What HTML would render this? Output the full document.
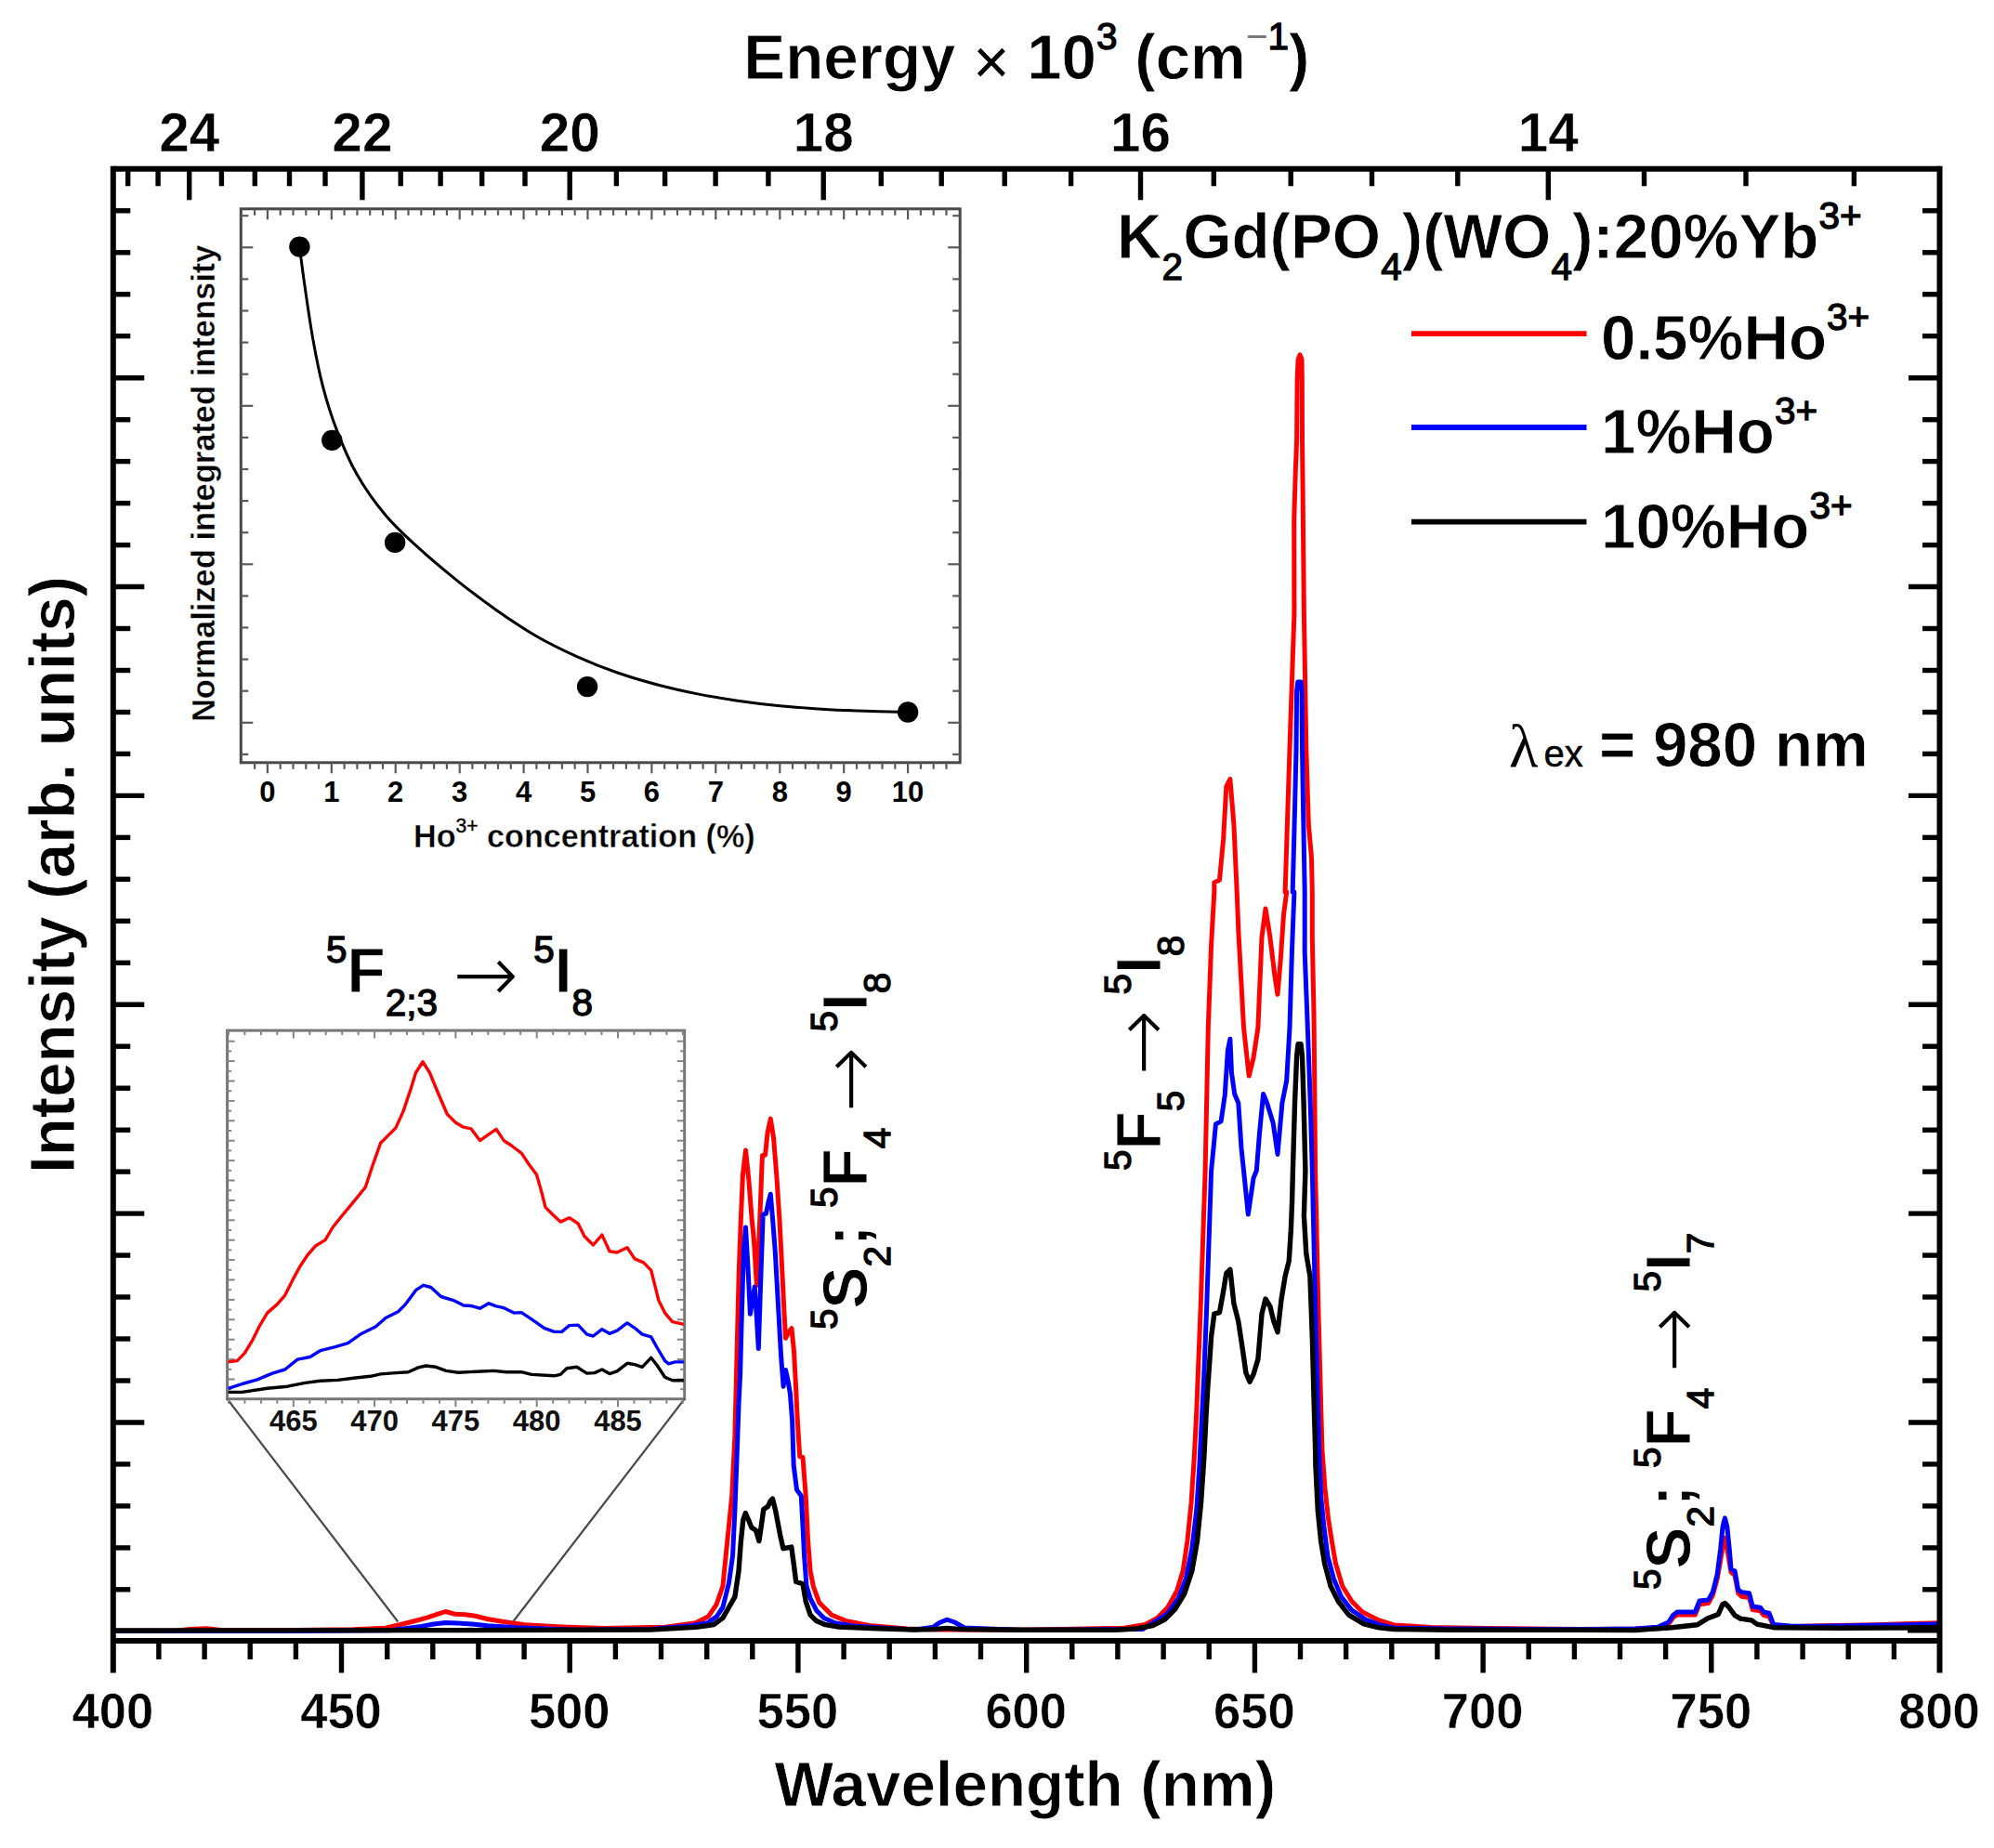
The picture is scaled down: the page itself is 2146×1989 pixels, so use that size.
<!DOCTYPE html>
<html lang="en"><head><meta charset="utf-8"><title>Upconversion emission spectra</title>
<style>html,body{margin:0;padding:0;background:#fff}svg{display:block}text{stroke:#fff;stroke-width:.8px}.k text{stroke-width:.5px}.s{font-weight:normal;stroke:#000;stroke-width:1.3px}.n{stroke:none}.t text{stroke:none}</style></head>
<body>
<svg width="2146" height="1989" viewBox="0 0 2146 1989" font-family='"Liberation Sans", Arial, Helvetica, sans-serif' font-weight="bold" fill="#000">
<rect width="2146" height="1989" fill="#fff"/>
<clipPath id="cp"><rect x="121.8" y="181.8" width="1965.7" height="1584.2"/></clipPath>
<g clip-path="url(#cp)">
<polyline points="121.8,1755.3 190.0,1754.9 205.0,1753.4 222.0,1752.7 238.0,1754.5 300.0,1754.7 380.0,1753.8 415.0,1752.3 429.8,1748.8 444.2,1745.2 460.2,1740.9 469.9,1737.7 479.5,1734.5 489.1,1737.2 500.4,1737.7 511.6,1739.3 524.4,1742.5 540.5,1745.2 564.6,1748.8 604.7,1751.0 650.0,1752.6 700.0,1751.5 716.2,1751.2 748.7,1746.7 762.5,1739.7 771.1,1726.8 777.9,1707.3 782.8,1658.6 787.7,1609.9 790.9,1544.9 792.5,1480.0 795.2,1370.5 797.3,1313.6 799.4,1264.9 802.5,1238.1 805.7,1268.2 809.0,1310.4 811.4,1334.7 814.4,1383.4 817.1,1329.9 820.4,1243.8 823.6,1243.0 826.0,1219.5 829.3,1204.1 832.5,1224.4 835.8,1264.9 839.0,1313.6 841.5,1362.3 843.9,1411.0 845.5,1440.3 848.8,1433.8 852.0,1429.7 854.4,1453.2 856.1,1484.1 858.3,1528.7 860.7,1567.7 864.0,1568.5 867.2,1609.9 869.6,1658.6 872.1,1691.0 875.3,1707.3 881.8,1725.1 894.8,1738.1 911.0,1744.8 935.4,1749.4 976.0,1753.1 1010.0,1754.1 1100.0,1754.3 1209.7,1752.2 1232.5,1748.5 1245.5,1741.4 1256.8,1730.0 1266.6,1712.1 1273.1,1691.0 1277.9,1658.6 1282.0,1618.0 1285.2,1569.3 1287.7,1520.6 1289.3,1480.0 1292.2,1406.1 1297.1,1260.0 1300.3,1106.1 1303.6,1016.8 1306.8,960.0 1306.8,949.8 1312.5,947.3 1316.6,903.5 1319.8,846.7 1323.9,838.6 1327.9,887.3 1331.2,960.0 1332.8,1000.6 1338.5,1106.1 1344.2,1158.1 1349.0,1138.6 1353.9,1106.1 1358.0,1008.7 1362.0,977.9 1366.9,1008.7 1371.8,1049.3 1375.0,1070.4 1378.2,1033.1 1381.5,984.4 1384.7,960.0 1383.1,960.0 1388.0,806.1 1392.9,660.0 1392.9,660.0 1392.7,560.0 1394.3,506.1 1395.6,473.6 1396.1,408.7 1397.1,386.8 1399.0,381.8 1401.0,386.8 1401.3,408.7 1401.5,473.6 1401.9,506.1 1402.4,560.0 1403.4,660.0 1405.8,806.1 1408.3,887.3 1411.5,923.0 1412.3,960.0 1412.3,1008.7 1414.0,1089.9 1414.8,1171.0 1415.6,1260.0 1418.8,1406.1 1422.9,1560.0 1426.0,1601.8 1429.5,1634.2 1433.3,1658.6 1437.5,1682.9 1444.8,1707.3 1454.9,1723.5 1466.2,1734.9 1484.1,1743.9 1500.0,1748.9 1540.0,1751.5 1600.0,1752.6 1700.0,1753.4 1760.0,1752.9 1783.8,1752.1 1795.7,1748.1 1800.5,1741.0 1805.2,1738.0 1824.3,1738.0 1829.0,1726.7 1838.6,1725.5 1843.3,1717.1 1848.1,1699.3 1851.7,1679.0 1854.0,1664.8 1856.4,1655.2 1858.8,1667.1 1861.2,1681.4 1863.0,1692.1 1867.1,1695.7 1870.7,1714.8 1874.3,1718.3 1882.6,1719.5 1886.2,1732.6 1894.5,1733.8 1898.1,1738.6 1904.0,1739.8 1908.8,1750.1 1926.7,1750.8 1960.0,1749.8 2020.0,1748.7 2060.0,1747.5 2087.5,1746.7" fill="none" stroke="#ff0000" stroke-width="5.0" stroke-linejoin="round" stroke-linecap="butt" />
<polyline points="121.8,1755.6 300.0,1755.4 420.0,1754.8 453.8,1750.4 466.7,1748.0 479.5,1746.5 492.3,1746.9 508.4,1748.0 524.4,1749.7 556.5,1751.8 620.0,1754.2 700.0,1753.5 740.6,1750.1 761.7,1746.6 771.4,1739.7 777.9,1730.0 784.4,1704.0 788.5,1674.8 790.9,1626.1 793.3,1561.2 795.0,1512.5 796.6,1480.0 798.4,1411.0 800.4,1346.1 802.5,1320.9 804.9,1362.3 807.4,1414.3 809.8,1399.7 812.2,1385.1 814.4,1419.2 816.3,1451.6 818.7,1378.6 821.2,1307.1 824.4,1306.3 826.9,1294.2 829.3,1285.2 831.7,1313.6 834.2,1346.1 837.4,1402.9 840.6,1459.7 843.1,1492.2 845.5,1474.4 848.0,1485.7 850.4,1500.0 852.6,1528.7 854.2,1577.4 857.5,1603.4 862.3,1609.9 864.0,1642.3 865.6,1674.8 868.0,1707.3 872.1,1720.3 878.6,1733.2 886.7,1741.4 898.1,1746.6 919.2,1750.1 959.7,1752.8 985.0,1754.0 1004.3,1751.3 1010.6,1746.7 1019.0,1743.2 1027.4,1746.0 1038.0,1752.0 1100.0,1754.5 1230.0,1753.5 1256.8,1736.5 1268.2,1720.3 1276.3,1699.2 1282.8,1666.7 1287.7,1626.1 1290.9,1577.4 1293.3,1528.7 1295.8,1480.0 1298.7,1406.1 1303.6,1260.0 1306.0,1236.0 1308.4,1210.0 1314.1,1206.8 1318.2,1179.2 1321.4,1130.5 1323.9,1118.3 1325.5,1154.8 1328.7,1177.5 1332.8,1187.3 1336.0,1236.0 1338.5,1260.0 1343.3,1307.1 1349.0,1268.1 1352.3,1260.0 1355.5,1219.7 1359.6,1177.5 1363.6,1187.3 1370.1,1208.4 1375.0,1242.5 1379.9,1187.3 1384.7,1162.9 1388.0,1106.1 1390.4,1024.9 1392.9,960.0 1391.2,960.0 1393.5,871.0 1395.0,806.1 1395.6,744.4 1396.8,733.9 1400.3,733.9 1401.0,744.4 1401.5,806.1 1402.6,871.0 1404.2,960.0 1404.2,1024.9 1406.7,1089.9 1409.1,1154.8 1410.7,1203.5 1412.3,1260.0 1415.6,1406.1 1419.6,1560.0 1421.6,1609.9 1424.8,1642.3 1428.9,1674.8 1435.4,1699.2 1443.5,1718.6 1454.9,1733.2 1469.5,1743.0 1485.7,1749.2 1500.0,1751.9 1560.0,1753.1 1700.0,1753.8 1760.0,1752.9 1783.8,1751.2 1795.7,1746.0 1800.5,1738.6 1805.2,1735.0 1824.3,1735.0 1829.0,1723.1 1838.6,1721.9 1843.3,1713.6 1848.1,1694.5 1851.7,1667.1 1854.0,1643.3 1856.4,1633.8 1858.8,1643.3 1861.2,1667.1 1863.0,1688.6 1867.1,1691.0 1870.7,1711.2 1874.3,1713.6 1882.6,1714.8 1886.2,1729.0 1894.5,1730.2 1898.1,1735.0 1904.0,1736.2 1908.8,1748.6 1926.7,1749.9 1960.0,1750.2 2040.0,1749.0 2087.5,1748.0" fill="none" stroke="#0000ff" stroke-width="5.0" stroke-linejoin="round" stroke-linecap="butt" />
<polyline points="121.8,1755.0 500.0,1754.6 700.0,1754.0 748.7,1751.4 768.2,1748.7 777.9,1741.4 784.4,1730.0 790.9,1718.6 795.0,1691.0 797.4,1658.6 799.8,1635.8 802.3,1628.5 805.5,1635.8 808.8,1644.0 813.6,1647.2 816.9,1658.6 819.3,1642.3 821.8,1624.5 826.6,1621.2 829.1,1615.6 831.5,1613.1 834.7,1626.1 839.6,1652.1 842.9,1666.7 851.8,1665.1 854.2,1682.9 856.7,1702.4 864.0,1704.8 867.2,1723.5 872.1,1738.1 878.6,1744.6 888.3,1748.7 902.9,1751.1 943.5,1752.7 985.0,1754.0 1005.0,1753.6 1019.0,1752.4 1035.0,1753.6 1100.0,1754.2 1200.0,1754.4 1224.4,1752.7 1240.6,1749.5 1253.6,1743.0 1264.9,1731.6 1274.7,1715.4 1282.8,1691.0 1288.5,1658.6 1292.5,1618.0 1295.8,1569.3 1298.2,1520.6 1300.6,1480.0 1300.3,1487.3 1303.6,1438.6 1306.8,1414.2 1312.5,1412.6 1316.6,1389.9 1319.8,1370.4 1323.9,1366.3 1327.9,1402.9 1332.8,1422.3 1337.7,1454.8 1340.9,1477.5 1345.0,1487.3 1349.0,1479.2 1353.9,1462.9 1358.0,1414.2 1362.0,1398.0 1366.9,1406.1 1370.9,1422.3 1375.0,1433.7 1379.1,1398.0 1383.1,1373.6 1387.2,1357.4 1389.3,1324.9 1390.6,1292.5 1391.4,1260.0 1391.4,1260.0 1393.5,1187.3 1395.6,1136.9 1397.1,1123.6 1400.0,1123.6 1401.5,1136.9 1403.1,1187.3 1404.9,1260.0 1403.4,1308.7 1405.8,1349.3 1409.9,1373.6 1412.3,1438.6 1414.0,1503.5 1415.6,1560.0 1415.9,1577.4 1418.3,1626.1 1421.6,1658.6 1425.6,1682.9 1432.1,1707.3 1440.3,1723.5 1451.6,1738.1 1467.9,1747.9 1484.1,1751.9 1500.0,1753.5 1560.0,1754.2 1700.0,1754.4 1760.0,1754.6 1799.3,1751.7 1826.7,1748.7 1837.4,1742.1 1849.3,1737.4 1854.0,1726.7 1856.4,1725.5 1860.0,1729.0 1867.1,1738.6 1873.1,1742.1 1885.0,1743.9 1891.0,1748.1 1908.8,1751.7 1980.0,1752.3 2050.0,1752.0 2087.5,1751.5" fill="none" stroke="#000" stroke-width="5.4" stroke-linejoin="round" stroke-linecap="butt" />
<line x1="2053" y1="1755.5" x2="2087.5" y2="1755.5" stroke="#000" stroke-width="4"/>
</g>
<g stroke="#000" stroke-width="6.0" fill="none" stroke-linecap="butt">
<line x1="121.8" y1="178.8" x2="121.8" y2="1800.5"/>
<line x1="2087.5" y1="178.8" x2="2087.5" y2="1800.5"/>
<line x1="121.8" y1="181.8" x2="2087.5" y2="181.8"/>
<line x1="121.8" y1="1766.0" x2="2087.5" y2="1766.0"/>
</g>
<g stroke="#000" stroke-width="5.4" fill="none">
<line x1="170.9" y1="1766.0" x2="170.9" y2="1786"/>
<line x1="220.1" y1="1766.0" x2="220.1" y2="1786"/>
<line x1="269.2" y1="1766.0" x2="269.2" y2="1786"/>
<line x1="318.4" y1="1766.0" x2="318.4" y2="1786"/>
<line x1="367.5" y1="1766.0" x2="367.5" y2="1800.5"/>
<line x1="416.7" y1="1766.0" x2="416.7" y2="1786"/>
<line x1="465.8" y1="1766.0" x2="465.8" y2="1786"/>
<line x1="514.9" y1="1766.0" x2="514.9" y2="1786"/>
<line x1="564.1" y1="1766.0" x2="564.1" y2="1786"/>
<line x1="613.2" y1="1766.0" x2="613.2" y2="1800.5"/>
<line x1="662.4" y1="1766.0" x2="662.4" y2="1786"/>
<line x1="711.5" y1="1766.0" x2="711.5" y2="1786"/>
<line x1="760.7" y1="1766.0" x2="760.7" y2="1786"/>
<line x1="809.8" y1="1766.0" x2="809.8" y2="1786"/>
<line x1="858.9" y1="1766.0" x2="858.9" y2="1800.5"/>
<line x1="908.1" y1="1766.0" x2="908.1" y2="1786"/>
<line x1="957.2" y1="1766.0" x2="957.2" y2="1786"/>
<line x1="1006.4" y1="1766.0" x2="1006.4" y2="1786"/>
<line x1="1055.5" y1="1766.0" x2="1055.5" y2="1786"/>
<line x1="1104.7" y1="1766.0" x2="1104.7" y2="1800.5"/>
<line x1="1153.8" y1="1766.0" x2="1153.8" y2="1786"/>
<line x1="1202.9" y1="1766.0" x2="1202.9" y2="1786"/>
<line x1="1252.1" y1="1766.0" x2="1252.1" y2="1786"/>
<line x1="1301.2" y1="1766.0" x2="1301.2" y2="1786"/>
<line x1="1350.4" y1="1766.0" x2="1350.4" y2="1800.5"/>
<line x1="1399.5" y1="1766.0" x2="1399.5" y2="1786"/>
<line x1="1448.6" y1="1766.0" x2="1448.6" y2="1786"/>
<line x1="1497.8" y1="1766.0" x2="1497.8" y2="1786"/>
<line x1="1546.9" y1="1766.0" x2="1546.9" y2="1786"/>
<line x1="1596.1" y1="1766.0" x2="1596.1" y2="1800.5"/>
<line x1="1645.2" y1="1766.0" x2="1645.2" y2="1786"/>
<line x1="1694.4" y1="1766.0" x2="1694.4" y2="1786"/>
<line x1="1743.5" y1="1766.0" x2="1743.5" y2="1786"/>
<line x1="1792.6" y1="1766.0" x2="1792.6" y2="1786"/>
<line x1="1841.8" y1="1766.0" x2="1841.8" y2="1800.5"/>
<line x1="1890.9" y1="1766.0" x2="1890.9" y2="1786"/>
<line x1="1940.1" y1="1766.0" x2="1940.1" y2="1786"/>
<line x1="1989.2" y1="1766.0" x2="1989.2" y2="1786"/>
<line x1="2038.4" y1="1766.0" x2="2038.4" y2="1786"/>
<line x1="137.7" y1="181.8" x2="137.7" y2="200.3"/>
<line x1="170.1" y1="181.8" x2="170.1" y2="200.3"/>
<line x1="203.7" y1="181.8" x2="203.7" y2="215.3"/>
<line x1="238.4" y1="181.8" x2="238.4" y2="200.3"/>
<line x1="274.3" y1="181.8" x2="274.3" y2="200.3"/>
<line x1="311.5" y1="181.8" x2="311.5" y2="200.3"/>
<line x1="350.0" y1="181.8" x2="350.0" y2="200.3"/>
<line x1="389.9" y1="181.8" x2="389.9" y2="215.3"/>
<line x1="431.2" y1="181.8" x2="431.2" y2="200.3"/>
<line x1="474.1" y1="181.8" x2="474.1" y2="200.3"/>
<line x1="518.7" y1="181.8" x2="518.7" y2="200.3"/>
<line x1="565.0" y1="181.8" x2="565.0" y2="200.3"/>
<line x1="613.2" y1="181.8" x2="613.2" y2="215.3"/>
<line x1="663.4" y1="181.8" x2="663.4" y2="200.3"/>
<line x1="715.6" y1="181.8" x2="715.6" y2="200.3"/>
<line x1="770.1" y1="181.8" x2="770.1" y2="200.3"/>
<line x1="826.9" y1="181.8" x2="826.9" y2="200.3"/>
<line x1="886.2" y1="181.8" x2="886.2" y2="215.3"/>
<line x1="948.3" y1="181.8" x2="948.3" y2="200.3"/>
<line x1="1013.2" y1="181.8" x2="1013.2" y2="200.3"/>
<line x1="1081.2" y1="181.8" x2="1081.2" y2="200.3"/>
<line x1="1152.6" y1="181.8" x2="1152.6" y2="200.3"/>
<line x1="1227.5" y1="181.8" x2="1227.5" y2="215.3"/>
<line x1="1306.3" y1="181.8" x2="1306.3" y2="200.3"/>
<line x1="1389.2" y1="181.8" x2="1389.2" y2="200.3"/>
<line x1="1476.5" y1="181.8" x2="1476.5" y2="200.3"/>
<line x1="1568.8" y1="181.8" x2="1568.8" y2="200.3"/>
<line x1="1666.3" y1="181.8" x2="1666.3" y2="215.3"/>
<line x1="1769.5" y1="181.8" x2="1769.5" y2="200.3"/>
<line x1="1879.0" y1="181.8" x2="1879.0" y2="200.3"/>
<line x1="1995.4" y1="181.8" x2="1995.4" y2="200.3"/>
<line x1="121.8" y1="1710.8" x2="140.3" y2="1710.8"/>
<line x1="2087.5" y1="1710.8" x2="2069.0" y2="1710.8"/>
<line x1="121.8" y1="1665.9" x2="140.3" y2="1665.9"/>
<line x1="2087.5" y1="1665.9" x2="2069.0" y2="1665.9"/>
<line x1="121.8" y1="1620.9" x2="140.3" y2="1620.9"/>
<line x1="2087.5" y1="1620.9" x2="2069.0" y2="1620.9"/>
<line x1="121.8" y1="1575.9" x2="140.3" y2="1575.9"/>
<line x1="2087.5" y1="1575.9" x2="2069.0" y2="1575.9"/>
<line x1="121.8" y1="1531.0" x2="155.3" y2="1531.0"/>
<line x1="2087.5" y1="1531.0" x2="2054.0" y2="1531.0"/>
<line x1="121.8" y1="1486.0" x2="140.3" y2="1486.0"/>
<line x1="2087.5" y1="1486.0" x2="2069.0" y2="1486.0"/>
<line x1="121.8" y1="1441.0" x2="140.3" y2="1441.0"/>
<line x1="2087.5" y1="1441.0" x2="2069.0" y2="1441.0"/>
<line x1="121.8" y1="1396.0" x2="140.3" y2="1396.0"/>
<line x1="2087.5" y1="1396.0" x2="2069.0" y2="1396.0"/>
<line x1="121.8" y1="1351.1" x2="140.3" y2="1351.1"/>
<line x1="2087.5" y1="1351.1" x2="2069.0" y2="1351.1"/>
<line x1="121.8" y1="1306.1" x2="155.3" y2="1306.1"/>
<line x1="2087.5" y1="1306.1" x2="2054.0" y2="1306.1"/>
<line x1="121.8" y1="1261.1" x2="140.3" y2="1261.1"/>
<line x1="2087.5" y1="1261.1" x2="2069.0" y2="1261.1"/>
<line x1="121.8" y1="1216.2" x2="140.3" y2="1216.2"/>
<line x1="2087.5" y1="1216.2" x2="2069.0" y2="1216.2"/>
<line x1="121.8" y1="1171.2" x2="140.3" y2="1171.2"/>
<line x1="2087.5" y1="1171.2" x2="2069.0" y2="1171.2"/>
<line x1="121.8" y1="1126.2" x2="140.3" y2="1126.2"/>
<line x1="2087.5" y1="1126.2" x2="2069.0" y2="1126.2"/>
<line x1="121.8" y1="1081.2" x2="155.3" y2="1081.2"/>
<line x1="2087.5" y1="1081.2" x2="2054.0" y2="1081.2"/>
<line x1="121.8" y1="1036.3" x2="140.3" y2="1036.3"/>
<line x1="2087.5" y1="1036.3" x2="2069.0" y2="1036.3"/>
<line x1="121.8" y1="991.3" x2="140.3" y2="991.3"/>
<line x1="2087.5" y1="991.3" x2="2069.0" y2="991.3"/>
<line x1="121.8" y1="946.3" x2="140.3" y2="946.3"/>
<line x1="2087.5" y1="946.3" x2="2069.0" y2="946.3"/>
<line x1="121.8" y1="901.4" x2="140.3" y2="901.4"/>
<line x1="2087.5" y1="901.4" x2="2069.0" y2="901.4"/>
<line x1="121.8" y1="856.4" x2="155.3" y2="856.4"/>
<line x1="2087.5" y1="856.4" x2="2054.0" y2="856.4"/>
<line x1="121.8" y1="811.4" x2="140.3" y2="811.4"/>
<line x1="2087.5" y1="811.4" x2="2069.0" y2="811.4"/>
<line x1="121.8" y1="766.5" x2="140.3" y2="766.5"/>
<line x1="2087.5" y1="766.5" x2="2069.0" y2="766.5"/>
<line x1="121.8" y1="721.5" x2="140.3" y2="721.5"/>
<line x1="2087.5" y1="721.5" x2="2069.0" y2="721.5"/>
<line x1="121.8" y1="676.5" x2="140.3" y2="676.5"/>
<line x1="2087.5" y1="676.5" x2="2069.0" y2="676.5"/>
<line x1="121.8" y1="631.5" x2="155.3" y2="631.5"/>
<line x1="2087.5" y1="631.5" x2="2054.0" y2="631.5"/>
<line x1="121.8" y1="586.6" x2="140.3" y2="586.6"/>
<line x1="2087.5" y1="586.6" x2="2069.0" y2="586.6"/>
<line x1="121.8" y1="541.6" x2="140.3" y2="541.6"/>
<line x1="2087.5" y1="541.6" x2="2069.0" y2="541.6"/>
<line x1="121.8" y1="496.6" x2="140.3" y2="496.6"/>
<line x1="2087.5" y1="496.6" x2="2069.0" y2="496.6"/>
<line x1="121.8" y1="451.7" x2="140.3" y2="451.7"/>
<line x1="2087.5" y1="451.7" x2="2069.0" y2="451.7"/>
<line x1="121.8" y1="406.7" x2="155.3" y2="406.7"/>
<line x1="2087.5" y1="406.7" x2="2054.0" y2="406.7"/>
<line x1="121.8" y1="361.7" x2="140.3" y2="361.7"/>
<line x1="2087.5" y1="361.7" x2="2069.0" y2="361.7"/>
<line x1="121.8" y1="316.8" x2="140.3" y2="316.8"/>
<line x1="2087.5" y1="316.8" x2="2069.0" y2="316.8"/>
<line x1="121.8" y1="271.8" x2="140.3" y2="271.8"/>
<line x1="2087.5" y1="271.8" x2="2069.0" y2="271.8"/>
<line x1="121.8" y1="226.8" x2="140.3" y2="226.8"/>
<line x1="2087.5" y1="226.8" x2="2069.0" y2="226.8"/>
</g>
<g class="k" font-size="52.5" text-anchor="middle">
<text transform="translate(121.3,1859.8) scale(1,1.02)">400</text>
<text transform="translate(367.0,1859.8) scale(1,1.02)">450</text>
<text transform="translate(612.7,1859.8) scale(1,1.02)">500</text>
<text transform="translate(858.4,1859.8) scale(1,1.02)">550</text>
<text transform="translate(1104.2,1859.8) scale(1,1.02)">600</text>
<text transform="translate(1349.9,1859.8) scale(1,1.02)">650</text>
<text transform="translate(1595.6,1859.8) scale(1,1.02)">700</text>
<text transform="translate(1841.3,1859.8) scale(1,1.02)">750</text>
<text transform="translate(2087.0,1859.8) scale(1,1.02)">800</text>
</g>
<g class="k" font-size="58.5" text-anchor="middle">
<text transform="translate(203.7,162.8) scale(1,1.02)">24</text>
<text transform="translate(389.9,162.8) scale(1,1.02)">22</text>
<text transform="translate(613.2,162.8) scale(1,1.02)">20</text>
<text transform="translate(886.2,162.8) scale(1,1.02)">18</text>
<text transform="translate(1227.5,162.8) scale(1,1.02)">16</text>
<text transform="translate(1666.3,162.8) scale(1,1.02)">14</text>
</g>
<text transform="translate(1103.3,1943.7) scale(1,1.02)" font-size="67.3" text-anchor="middle">Wavelength (nm)</text>
<text transform="translate(80.3,941.5) rotate(-90) scale(1,1.02)" font-size="67.3" text-anchor="middle">Intensity (arb. units)</text>
<text transform="translate(800.3,85.3) scale(1,1.02)" font-size="67.3">Energy <tspan class="n" font-weight="normal" dy="4.90">×</tspan><tspan dy="-4.90"> 10</tspan><tspan class="s" font-size="40.5" dy="-31.37">3</tspan><tspan dy="31.37"> (cm</tspan><tspan class="n" font-size="40.5" dy="-31.37" font-weight="normal" fill="#777">−</tspan><tspan class="s" font-size="40.5">1</tspan><tspan dy="31.37">)</tspan></text>
<text transform="translate(1202,278.3) scale(1,1.02)" font-size="67.3">K<tspan class="s" font-size="40.5" dy="22.55">2</tspan><tspan dy="-22.55">Gd(PO</tspan><tspan class="s" font-size="40.5" dy="22.55">4</tspan><tspan dy="-22.55">)(WO</tspan><tspan class="s" font-size="40.5" dy="22.55">4</tspan><tspan dy="-22.55">):20%Yb</tspan><tspan class="s" font-size="40.5" dy="-31.37">3+</tspan></text>
<line x1="1519" y1="359.2" x2="1707.5" y2="359.2" stroke="#ff0000" stroke-width="5.8"/>
<text transform="translate(1723,387.4) scale(1,1.02)" font-size="67.3">0.5%Ho<tspan class="s" font-size="40.5" dy="-31.37">3+</tspan></text>
<line x1="1519" y1="460.0" x2="1707.5" y2="460.0" stroke="#0000ff" stroke-width="5.8"/>
<text transform="translate(1723,488.2) scale(1,1.02)" font-size="67.3">1%Ho<tspan class="s" font-size="40.5" dy="-31.37">3+</tspan></text>
<line x1="1519" y1="561.6" x2="1707.5" y2="561.6" stroke="#000" stroke-width="5.8"/>
<text transform="translate(1723,589.8) scale(1,1.02)" font-size="67.3">10%Ho<tspan class="s" font-size="40.5" dy="-31.37">3+</tspan></text>
<text transform="translate(1624,825) scale(1,1.02)" font-size="67.3"><tspan font-family='"Liberation Serif", serif' class="n" font-weight="normal" font-size="65">λ</tspan><tspan class="s" font-size="40" dx="6" style="stroke-width:.5px">ex</tspan><tspan dx="-1.5"> = 980 nm</tspan></text>
<text transform="translate(351,1068.1) rotate(0) scale(1,1.02)" font-size="67.3"><tspan class="s" font-size="40.5" dy="-31.37">5</tspan><tspan dy="31.37">F</tspan><tspan class="s" font-size="40.5" dy="24.51">2;3</tspan><tspan dy="-24.51"> </tspan><tspan font-family='"DejaVu Sans Light", "Liberation Serif", serif' class="n" font-weight="normal" font-size="84" dy="9.41" dx="-2">→</tspan><tspan dy="-9.41" dx="-2.5"> </tspan><tspan class="s" font-size="40.5" dy="-31.37">5</tspan><tspan dy="31.37">I</tspan><tspan class="s" font-size="40.5" dy="24.51">8</tspan></text>
<text transform="translate(933.4,1431) rotate(-90) scale(1,1.02)" font-size="67.3"><tspan class="s" font-size="40.5" dy="-31.37">5</tspan><tspan dy="31.37">S</tspan><tspan class="s" font-size="40.5" dy="24.51">2</tspan><tspan dy="-24.51">; </tspan><tspan class="s" font-size="40.5" dy="-31.37">5</tspan><tspan dy="31.37">F</tspan><tspan class="s" font-size="40.5" dy="24.51">4</tspan><tspan dy="-24.51"> </tspan><tspan font-family='"DejaVu Sans Light", "Liberation Serif", serif' class="n" font-weight="normal" font-size="84" dy="9.41" dx="-2">→</tspan><tspan dy="-9.41" dx="-2.5"> </tspan><tspan class="s" font-size="40.5" dy="-31.37">5</tspan><tspan dy="31.37">I</tspan><tspan class="s" font-size="40.5" dy="24.51">8</tspan></text>
<text transform="translate(1248.5,1260) rotate(-90) scale(1,1.02)" font-size="67.3"><tspan class="s" font-size="40.5" dy="-31.37">5</tspan><tspan dy="31.37">F</tspan><tspan class="s" font-size="40.5" dy="24.51">5</tspan><tspan dy="-24.51"> </tspan><tspan font-family='"DejaVu Sans Light", "Liberation Serif", serif' class="n" font-weight="normal" font-size="84" dy="9.41" dx="-2">→</tspan><tspan dy="-9.41" dx="-2.5"> </tspan><tspan class="s" font-size="40.5" dy="-31.37">5</tspan><tspan dy="31.37">I</tspan><tspan class="s" font-size="40.5" dy="24.51">8</tspan></text>
<text transform="translate(1819.2,1711) rotate(-90) scale(1,1.02)" font-size="67.3"><tspan class="s" font-size="40.5" dy="-31.37">5</tspan><tspan dy="31.37">S</tspan><tspan class="s" font-size="40.5" dy="24.51">2</tspan><tspan dy="-24.51">; </tspan><tspan class="s" font-size="40.5" dy="-31.37">5</tspan><tspan dy="31.37">F</tspan><tspan class="s" font-size="40.5" dy="24.51">4</tspan><tspan dy="-24.51"> </tspan><tspan font-family='"DejaVu Sans Light", "Liberation Serif", serif' class="n" font-weight="normal" font-size="84" dy="9.41" dx="-2">→</tspan><tspan dy="-9.41" dx="-2.5"> </tspan><tspan class="s" font-size="40.5" dy="-31.37">5</tspan><tspan dy="31.37">I</tspan><tspan class="s" font-size="40.5" dy="24.51">7</tspan></text>
<rect x="259.3" y="224.8" width="773.9000000000001" height="596.0" fill="#fff" stroke="#484848" stroke-width="3"/>
<g stroke="#5a5a5a" stroke-width="2.2">
<line x1="274.1" y1="820.8" x2="274.1" y2="827.8"/>
<line x1="274.1" y1="224.8" x2="274.1" y2="231.8"/>
<line x1="287.9" y1="820.8" x2="287.9" y2="832.3"/>
<line x1="287.9" y1="224.8" x2="287.9" y2="236.3"/>
<line x1="301.7" y1="820.8" x2="301.7" y2="827.8"/>
<line x1="301.7" y1="224.8" x2="301.7" y2="231.8"/>
<line x1="315.5" y1="820.8" x2="315.5" y2="827.8"/>
<line x1="315.5" y1="224.8" x2="315.5" y2="231.8"/>
<line x1="329.3" y1="820.8" x2="329.3" y2="827.8"/>
<line x1="329.3" y1="224.8" x2="329.3" y2="231.8"/>
<line x1="343.0" y1="820.8" x2="343.0" y2="827.8"/>
<line x1="343.0" y1="224.8" x2="343.0" y2="231.8"/>
<line x1="356.8" y1="820.8" x2="356.8" y2="832.3"/>
<line x1="356.8" y1="224.8" x2="356.8" y2="236.3"/>
<line x1="370.6" y1="820.8" x2="370.6" y2="827.8"/>
<line x1="370.6" y1="224.8" x2="370.6" y2="231.8"/>
<line x1="384.4" y1="820.8" x2="384.4" y2="827.8"/>
<line x1="384.4" y1="224.8" x2="384.4" y2="231.8"/>
<line x1="398.2" y1="820.8" x2="398.2" y2="827.8"/>
<line x1="398.2" y1="224.8" x2="398.2" y2="231.8"/>
<line x1="412.0" y1="820.8" x2="412.0" y2="827.8"/>
<line x1="412.0" y1="224.8" x2="412.0" y2="231.8"/>
<line x1="425.7" y1="820.8" x2="425.7" y2="832.3"/>
<line x1="425.7" y1="224.8" x2="425.7" y2="236.3"/>
<line x1="439.5" y1="820.8" x2="439.5" y2="827.8"/>
<line x1="439.5" y1="224.8" x2="439.5" y2="231.8"/>
<line x1="453.3" y1="820.8" x2="453.3" y2="827.8"/>
<line x1="453.3" y1="224.8" x2="453.3" y2="231.8"/>
<line x1="467.1" y1="820.8" x2="467.1" y2="827.8"/>
<line x1="467.1" y1="224.8" x2="467.1" y2="231.8"/>
<line x1="480.9" y1="820.8" x2="480.9" y2="827.8"/>
<line x1="480.9" y1="224.8" x2="480.9" y2="231.8"/>
<line x1="494.7" y1="820.8" x2="494.7" y2="832.3"/>
<line x1="494.7" y1="224.8" x2="494.7" y2="236.3"/>
<line x1="508.4" y1="820.8" x2="508.4" y2="827.8"/>
<line x1="508.4" y1="224.8" x2="508.4" y2="231.8"/>
<line x1="522.2" y1="820.8" x2="522.2" y2="827.8"/>
<line x1="522.2" y1="224.8" x2="522.2" y2="231.8"/>
<line x1="536.0" y1="820.8" x2="536.0" y2="827.8"/>
<line x1="536.0" y1="224.8" x2="536.0" y2="231.8"/>
<line x1="549.8" y1="820.8" x2="549.8" y2="827.8"/>
<line x1="549.8" y1="224.8" x2="549.8" y2="231.8"/>
<line x1="563.6" y1="820.8" x2="563.6" y2="832.3"/>
<line x1="563.6" y1="224.8" x2="563.6" y2="236.3"/>
<line x1="577.4" y1="820.8" x2="577.4" y2="827.8"/>
<line x1="577.4" y1="224.8" x2="577.4" y2="231.8"/>
<line x1="591.1" y1="820.8" x2="591.1" y2="827.8"/>
<line x1="591.1" y1="224.8" x2="591.1" y2="231.8"/>
<line x1="604.9" y1="820.8" x2="604.9" y2="827.8"/>
<line x1="604.9" y1="224.8" x2="604.9" y2="231.8"/>
<line x1="618.7" y1="820.8" x2="618.7" y2="827.8"/>
<line x1="618.7" y1="224.8" x2="618.7" y2="231.8"/>
<line x1="632.5" y1="820.8" x2="632.5" y2="832.3"/>
<line x1="632.5" y1="224.8" x2="632.5" y2="236.3"/>
<line x1="646.3" y1="820.8" x2="646.3" y2="827.8"/>
<line x1="646.3" y1="224.8" x2="646.3" y2="231.8"/>
<line x1="660.1" y1="820.8" x2="660.1" y2="827.8"/>
<line x1="660.1" y1="224.8" x2="660.1" y2="231.8"/>
<line x1="673.9" y1="820.8" x2="673.9" y2="827.8"/>
<line x1="673.9" y1="224.8" x2="673.9" y2="231.8"/>
<line x1="687.6" y1="820.8" x2="687.6" y2="827.8"/>
<line x1="687.6" y1="224.8" x2="687.6" y2="231.8"/>
<line x1="701.4" y1="820.8" x2="701.4" y2="832.3"/>
<line x1="701.4" y1="224.8" x2="701.4" y2="236.3"/>
<line x1="715.2" y1="820.8" x2="715.2" y2="827.8"/>
<line x1="715.2" y1="224.8" x2="715.2" y2="231.8"/>
<line x1="729.0" y1="820.8" x2="729.0" y2="827.8"/>
<line x1="729.0" y1="224.8" x2="729.0" y2="231.8"/>
<line x1="742.8" y1="820.8" x2="742.8" y2="827.8"/>
<line x1="742.8" y1="224.8" x2="742.8" y2="231.8"/>
<line x1="756.6" y1="820.8" x2="756.6" y2="827.8"/>
<line x1="756.6" y1="224.8" x2="756.6" y2="231.8"/>
<line x1="770.3" y1="820.8" x2="770.3" y2="832.3"/>
<line x1="770.3" y1="224.8" x2="770.3" y2="236.3"/>
<line x1="784.1" y1="820.8" x2="784.1" y2="827.8"/>
<line x1="784.1" y1="224.8" x2="784.1" y2="231.8"/>
<line x1="797.9" y1="820.8" x2="797.9" y2="827.8"/>
<line x1="797.9" y1="224.8" x2="797.9" y2="231.8"/>
<line x1="811.7" y1="820.8" x2="811.7" y2="827.8"/>
<line x1="811.7" y1="224.8" x2="811.7" y2="231.8"/>
<line x1="825.5" y1="820.8" x2="825.5" y2="827.8"/>
<line x1="825.5" y1="224.8" x2="825.5" y2="231.8"/>
<line x1="839.3" y1="820.8" x2="839.3" y2="832.3"/>
<line x1="839.3" y1="224.8" x2="839.3" y2="236.3"/>
<line x1="853.0" y1="820.8" x2="853.0" y2="827.8"/>
<line x1="853.0" y1="224.8" x2="853.0" y2="231.8"/>
<line x1="866.8" y1="820.8" x2="866.8" y2="827.8"/>
<line x1="866.8" y1="224.8" x2="866.8" y2="231.8"/>
<line x1="880.6" y1="820.8" x2="880.6" y2="827.8"/>
<line x1="880.6" y1="224.8" x2="880.6" y2="231.8"/>
<line x1="894.4" y1="820.8" x2="894.4" y2="827.8"/>
<line x1="894.4" y1="224.8" x2="894.4" y2="231.8"/>
<line x1="908.2" y1="820.8" x2="908.2" y2="832.3"/>
<line x1="908.2" y1="224.8" x2="908.2" y2="236.3"/>
<line x1="922.0" y1="820.8" x2="922.0" y2="827.8"/>
<line x1="922.0" y1="224.8" x2="922.0" y2="231.8"/>
<line x1="935.7" y1="820.8" x2="935.7" y2="827.8"/>
<line x1="935.7" y1="224.8" x2="935.7" y2="231.8"/>
<line x1="949.5" y1="820.8" x2="949.5" y2="827.8"/>
<line x1="949.5" y1="224.8" x2="949.5" y2="231.8"/>
<line x1="963.3" y1="820.8" x2="963.3" y2="827.8"/>
<line x1="963.3" y1="224.8" x2="963.3" y2="231.8"/>
<line x1="977.1" y1="820.8" x2="977.1" y2="832.3"/>
<line x1="977.1" y1="224.8" x2="977.1" y2="236.3"/>
<line x1="990.9" y1="820.8" x2="990.9" y2="827.8"/>
<line x1="990.9" y1="224.8" x2="990.9" y2="231.8"/>
<line x1="1004.7" y1="820.8" x2="1004.7" y2="827.8"/>
<line x1="1004.7" y1="224.8" x2="1004.7" y2="231.8"/>
<line x1="1018.5" y1="820.8" x2="1018.5" y2="827.8"/>
<line x1="1018.5" y1="224.8" x2="1018.5" y2="231.8"/>
<line x1="259.3" y1="232.2" x2="267.3" y2="232.2"/>
<line x1="1033.2" y1="232.2" x2="1025.2" y2="232.2"/>
<line x1="259.3" y1="266.3" x2="272.3" y2="266.3"/>
<line x1="1033.2" y1="266.3" x2="1020.2" y2="266.3"/>
<line x1="259.3" y1="300.4" x2="267.3" y2="300.4"/>
<line x1="1033.2" y1="300.4" x2="1025.2" y2="300.4"/>
<line x1="259.3" y1="334.5" x2="267.3" y2="334.5"/>
<line x1="1033.2" y1="334.5" x2="1025.2" y2="334.5"/>
<line x1="259.3" y1="368.6" x2="267.3" y2="368.6"/>
<line x1="1033.2" y1="368.6" x2="1025.2" y2="368.6"/>
<line x1="259.3" y1="402.7" x2="267.3" y2="402.7"/>
<line x1="1033.2" y1="402.7" x2="1025.2" y2="402.7"/>
<line x1="259.3" y1="436.8" x2="272.3" y2="436.8"/>
<line x1="1033.2" y1="436.8" x2="1020.2" y2="436.8"/>
<line x1="259.3" y1="470.9" x2="267.3" y2="470.9"/>
<line x1="1033.2" y1="470.9" x2="1025.2" y2="470.9"/>
<line x1="259.3" y1="505.0" x2="267.3" y2="505.0"/>
<line x1="1033.2" y1="505.0" x2="1025.2" y2="505.0"/>
<line x1="259.3" y1="539.1" x2="267.3" y2="539.1"/>
<line x1="1033.2" y1="539.1" x2="1025.2" y2="539.1"/>
<line x1="259.3" y1="573.2" x2="267.3" y2="573.2"/>
<line x1="1033.2" y1="573.2" x2="1025.2" y2="573.2"/>
<line x1="259.3" y1="607.3" x2="272.3" y2="607.3"/>
<line x1="1033.2" y1="607.3" x2="1020.2" y2="607.3"/>
<line x1="259.3" y1="641.4" x2="267.3" y2="641.4"/>
<line x1="1033.2" y1="641.4" x2="1025.2" y2="641.4"/>
<line x1="259.3" y1="675.5" x2="267.3" y2="675.5"/>
<line x1="1033.2" y1="675.5" x2="1025.2" y2="675.5"/>
<line x1="259.3" y1="709.6" x2="267.3" y2="709.6"/>
<line x1="1033.2" y1="709.6" x2="1025.2" y2="709.6"/>
<line x1="259.3" y1="743.7" x2="267.3" y2="743.7"/>
<line x1="1033.2" y1="743.7" x2="1025.2" y2="743.7"/>
<line x1="259.3" y1="777.8" x2="272.3" y2="777.8"/>
<line x1="1033.2" y1="777.8" x2="1020.2" y2="777.8"/>
<line x1="259.3" y1="811.9" x2="267.3" y2="811.9"/>
<line x1="1033.2" y1="811.9" x2="1025.2" y2="811.9"/>
</g>
<path d="M322.4,265.6 C323.3,272.6 325.6,291.4 328.0,307.8 C330.4,324.2 333.4,345.9 336.6,363.9 C339.8,381.9 343.1,399.1 347.4,415.6 C351.7,432.1 356.4,447.3 362.5,463.1 C368.6,478.9 375.5,495.4 384.1,510.5 C392.7,525.6 403.5,540.8 414.3,553.7 C425.1,566.7 435.9,576.4 448.8,588.2 C461.7,600.1 477.5,613.3 491.9,624.8 C506.3,636.3 520.6,647.1 535.0,657.2 C549.4,667.3 563.8,676.9 578.2,685.2 C592.6,693.5 606.9,700.3 621.3,706.8 C635.7,713.3 650.0,719.0 664.4,724.0 C678.8,729.0 693.2,733.2 707.6,737.0 C722.0,740.8 736.3,744.0 750.7,746.9 C765.1,749.8 779.4,752.1 793.8,754.2 C808.2,756.3 822.6,758.0 837.0,759.4 C851.4,760.8 865.7,762.0 880.1,762.9 C894.5,763.8 907.0,764.4 923.2,765.0 C939.4,765.6 968.1,766.2 977.1,766.5" fill="none" stroke="#000" stroke-width="3"/>
<circle cx="322.4" cy="265.6" r="11.2" fill="#000"/>
<circle cx="357.3" cy="473.9" r="11.2" fill="#000"/>
<circle cx="425.1" cy="583.9" r="11.2" fill="#000"/>
<circle cx="632.1" cy="739.1" r="11.2" fill="#000"/>
<circle cx="977.1" cy="766.5" r="11.2" fill="#000"/>
<g class="t" font-size="31" text-anchor="middle">
<text transform="translate(287.9,863.3) scale(1,1.02)">0</text>
<text transform="translate(356.8,863.3) scale(1,1.02)">1</text>
<text transform="translate(425.7,863.3) scale(1,1.02)">2</text>
<text transform="translate(494.7,863.3) scale(1,1.02)">3</text>
<text transform="translate(563.6,863.3) scale(1,1.02)">4</text>
<text transform="translate(632.5,863.3) scale(1,1.02)">5</text>
<text transform="translate(701.4,863.3) scale(1,1.02)">6</text>
<text transform="translate(770.3,863.3) scale(1,1.02)">7</text>
<text transform="translate(839.3,863.3) scale(1,1.02)">8</text>
<text transform="translate(908.2,863.3) scale(1,1.02)">9</text>
<text transform="translate(977.1,863.3) scale(1,1.02)">10</text>
</g>
<text style="stroke-width:.4px" transform="translate(445,911.5) scale(1,1.02)" font-size="34.2">Ho<tspan class="s" style="stroke-width:.4px" font-size="21" dy="-15.20">3+</tspan><tspan dy="15.20"> concentration (%)</tspan></text>
<text style="stroke-width:.4px" transform="translate(230.5,520.3) rotate(-90) scale(1,1.02)" font-size="34.5" text-anchor="middle">Normalized integrated intensity</text>
<rect x="244.6" y="1109.1" width="492.1" height="396.60000000000014" fill="#fff" stroke="#767676" stroke-width="3"/>
<g stroke="#4a4a4a" stroke-width="2.2" fill="none"><line x1="244.6" y1="1505.7" x2="428.3" y2="1745.5"/><line x1="736.7" y1="1505.7" x2="552.5" y2="1745"/></g>
<g stroke="#858585" stroke-width="2">
<line x1="246.0" y1="1109.1" x2="246.0" y2="1114.1"/>
<line x1="246.0" y1="1505.7" x2="246.0" y2="1510.7"/>
<line x1="263.4" y1="1109.1" x2="263.4" y2="1114.1"/>
<line x1="263.4" y1="1505.7" x2="263.4" y2="1510.7"/>
<line x1="280.9" y1="1109.1" x2="280.9" y2="1114.1"/>
<line x1="280.9" y1="1505.7" x2="280.9" y2="1510.7"/>
<line x1="298.3" y1="1109.1" x2="298.3" y2="1114.1"/>
<line x1="298.3" y1="1505.7" x2="298.3" y2="1510.7"/>
<line x1="315.8" y1="1109.1" x2="315.8" y2="1117.6"/>
<line x1="315.8" y1="1505.7" x2="315.8" y2="1514.2"/>
<line x1="333.3" y1="1109.1" x2="333.3" y2="1114.1"/>
<line x1="333.3" y1="1505.7" x2="333.3" y2="1510.7"/>
<line x1="350.7" y1="1109.1" x2="350.7" y2="1114.1"/>
<line x1="350.7" y1="1505.7" x2="350.7" y2="1510.7"/>
<line x1="368.2" y1="1109.1" x2="368.2" y2="1114.1"/>
<line x1="368.2" y1="1505.7" x2="368.2" y2="1510.7"/>
<line x1="385.6" y1="1109.1" x2="385.6" y2="1114.1"/>
<line x1="385.6" y1="1505.7" x2="385.6" y2="1510.7"/>
<line x1="403.1" y1="1109.1" x2="403.1" y2="1117.6"/>
<line x1="403.1" y1="1505.7" x2="403.1" y2="1514.2"/>
<line x1="420.6" y1="1109.1" x2="420.6" y2="1114.1"/>
<line x1="420.6" y1="1505.7" x2="420.6" y2="1510.7"/>
<line x1="438.0" y1="1109.1" x2="438.0" y2="1114.1"/>
<line x1="438.0" y1="1505.7" x2="438.0" y2="1510.7"/>
<line x1="455.5" y1="1109.1" x2="455.5" y2="1114.1"/>
<line x1="455.5" y1="1505.7" x2="455.5" y2="1510.7"/>
<line x1="472.9" y1="1109.1" x2="472.9" y2="1114.1"/>
<line x1="472.9" y1="1505.7" x2="472.9" y2="1510.7"/>
<line x1="490.4" y1="1109.1" x2="490.4" y2="1117.6"/>
<line x1="490.4" y1="1505.7" x2="490.4" y2="1514.2"/>
<line x1="507.9" y1="1109.1" x2="507.9" y2="1114.1"/>
<line x1="507.9" y1="1505.7" x2="507.9" y2="1510.7"/>
<line x1="525.3" y1="1109.1" x2="525.3" y2="1114.1"/>
<line x1="525.3" y1="1505.7" x2="525.3" y2="1510.7"/>
<line x1="542.8" y1="1109.1" x2="542.8" y2="1114.1"/>
<line x1="542.8" y1="1505.7" x2="542.8" y2="1510.7"/>
<line x1="560.2" y1="1109.1" x2="560.2" y2="1114.1"/>
<line x1="560.2" y1="1505.7" x2="560.2" y2="1510.7"/>
<line x1="577.7" y1="1109.1" x2="577.7" y2="1117.6"/>
<line x1="577.7" y1="1505.7" x2="577.7" y2="1514.2"/>
<line x1="595.2" y1="1109.1" x2="595.2" y2="1114.1"/>
<line x1="595.2" y1="1505.7" x2="595.2" y2="1510.7"/>
<line x1="612.6" y1="1109.1" x2="612.6" y2="1114.1"/>
<line x1="612.6" y1="1505.7" x2="612.6" y2="1510.7"/>
<line x1="630.1" y1="1109.1" x2="630.1" y2="1114.1"/>
<line x1="630.1" y1="1505.7" x2="630.1" y2="1510.7"/>
<line x1="647.5" y1="1109.1" x2="647.5" y2="1114.1"/>
<line x1="647.5" y1="1505.7" x2="647.5" y2="1510.7"/>
<line x1="665.0" y1="1109.1" x2="665.0" y2="1117.6"/>
<line x1="665.0" y1="1505.7" x2="665.0" y2="1514.2"/>
<line x1="682.5" y1="1109.1" x2="682.5" y2="1114.1"/>
<line x1="682.5" y1="1505.7" x2="682.5" y2="1510.7"/>
<line x1="699.9" y1="1109.1" x2="699.9" y2="1114.1"/>
<line x1="699.9" y1="1505.7" x2="699.9" y2="1510.7"/>
<line x1="717.4" y1="1109.1" x2="717.4" y2="1114.1"/>
<line x1="717.4" y1="1505.7" x2="717.4" y2="1510.7"/>
<line x1="734.8" y1="1109.1" x2="734.8" y2="1114.1"/>
<line x1="734.8" y1="1505.7" x2="734.8" y2="1510.7"/>
<line x1="244.6" y1="1120.7" x2="252.6" y2="1120.7"/>
<line x1="736.7" y1="1120.7" x2="728.7" y2="1120.7"/>
<line x1="244.6" y1="1131.4" x2="249.1" y2="1131.4"/>
<line x1="736.7" y1="1131.4" x2="732.2" y2="1131.4"/>
<line x1="244.6" y1="1142.1" x2="252.6" y2="1142.1"/>
<line x1="736.7" y1="1142.1" x2="728.7" y2="1142.1"/>
<line x1="244.6" y1="1152.8" x2="249.1" y2="1152.8"/>
<line x1="736.7" y1="1152.8" x2="732.2" y2="1152.8"/>
<line x1="244.6" y1="1163.5" x2="252.6" y2="1163.5"/>
<line x1="736.7" y1="1163.5" x2="728.7" y2="1163.5"/>
<line x1="244.6" y1="1174.2" x2="249.1" y2="1174.2"/>
<line x1="736.7" y1="1174.2" x2="732.2" y2="1174.2"/>
<line x1="244.6" y1="1184.9" x2="252.6" y2="1184.9"/>
<line x1="736.7" y1="1184.9" x2="728.7" y2="1184.9"/>
<line x1="244.6" y1="1195.6" x2="249.1" y2="1195.6"/>
<line x1="736.7" y1="1195.6" x2="732.2" y2="1195.6"/>
<line x1="244.6" y1="1206.3" x2="252.6" y2="1206.3"/>
<line x1="736.7" y1="1206.3" x2="728.7" y2="1206.3"/>
<line x1="244.6" y1="1217.0" x2="249.1" y2="1217.0"/>
<line x1="736.7" y1="1217.0" x2="732.2" y2="1217.0"/>
<line x1="244.6" y1="1227.7" x2="252.6" y2="1227.7"/>
<line x1="736.7" y1="1227.7" x2="728.7" y2="1227.7"/>
<line x1="244.6" y1="1238.4" x2="249.1" y2="1238.4"/>
<line x1="736.7" y1="1238.4" x2="732.2" y2="1238.4"/>
<line x1="244.6" y1="1249.1" x2="252.6" y2="1249.1"/>
<line x1="736.7" y1="1249.1" x2="728.7" y2="1249.1"/>
<line x1="244.6" y1="1259.8" x2="249.1" y2="1259.8"/>
<line x1="736.7" y1="1259.8" x2="732.2" y2="1259.8"/>
<line x1="244.6" y1="1270.5" x2="252.6" y2="1270.5"/>
<line x1="736.7" y1="1270.5" x2="728.7" y2="1270.5"/>
<line x1="244.6" y1="1281.2" x2="249.1" y2="1281.2"/>
<line x1="736.7" y1="1281.2" x2="732.2" y2="1281.2"/>
<line x1="244.6" y1="1291.9" x2="252.6" y2="1291.9"/>
<line x1="736.7" y1="1291.9" x2="728.7" y2="1291.9"/>
<line x1="244.6" y1="1302.6" x2="249.1" y2="1302.6"/>
<line x1="736.7" y1="1302.6" x2="732.2" y2="1302.6"/>
<line x1="244.6" y1="1313.3" x2="252.6" y2="1313.3"/>
<line x1="736.7" y1="1313.3" x2="728.7" y2="1313.3"/>
<line x1="244.6" y1="1324.0" x2="249.1" y2="1324.0"/>
<line x1="736.7" y1="1324.0" x2="732.2" y2="1324.0"/>
<line x1="244.6" y1="1334.7" x2="252.6" y2="1334.7"/>
<line x1="736.7" y1="1334.7" x2="728.7" y2="1334.7"/>
<line x1="244.6" y1="1345.4" x2="249.1" y2="1345.4"/>
<line x1="736.7" y1="1345.4" x2="732.2" y2="1345.4"/>
<line x1="244.6" y1="1356.1" x2="252.6" y2="1356.1"/>
<line x1="736.7" y1="1356.1" x2="728.7" y2="1356.1"/>
<line x1="244.6" y1="1366.8" x2="249.1" y2="1366.8"/>
<line x1="736.7" y1="1366.8" x2="732.2" y2="1366.8"/>
<line x1="244.6" y1="1377.5" x2="252.6" y2="1377.5"/>
<line x1="736.7" y1="1377.5" x2="728.7" y2="1377.5"/>
<line x1="244.6" y1="1388.2" x2="249.1" y2="1388.2"/>
<line x1="736.7" y1="1388.2" x2="732.2" y2="1388.2"/>
<line x1="244.6" y1="1398.9" x2="252.6" y2="1398.9"/>
<line x1="736.7" y1="1398.9" x2="728.7" y2="1398.9"/>
<line x1="244.6" y1="1409.6" x2="249.1" y2="1409.6"/>
<line x1="736.7" y1="1409.6" x2="732.2" y2="1409.6"/>
<line x1="244.6" y1="1420.3" x2="252.6" y2="1420.3"/>
<line x1="736.7" y1="1420.3" x2="728.7" y2="1420.3"/>
<line x1="244.6" y1="1431.0" x2="249.1" y2="1431.0"/>
<line x1="736.7" y1="1431.0" x2="732.2" y2="1431.0"/>
<line x1="244.6" y1="1441.7" x2="252.6" y2="1441.7"/>
<line x1="736.7" y1="1441.7" x2="728.7" y2="1441.7"/>
<line x1="244.6" y1="1452.4" x2="249.1" y2="1452.4"/>
<line x1="736.7" y1="1452.4" x2="732.2" y2="1452.4"/>
<line x1="244.6" y1="1463.1" x2="252.6" y2="1463.1"/>
<line x1="736.7" y1="1463.1" x2="728.7" y2="1463.1"/>
<line x1="244.6" y1="1473.8" x2="249.1" y2="1473.8"/>
<line x1="736.7" y1="1473.8" x2="732.2" y2="1473.8"/>
<line x1="244.6" y1="1484.5" x2="252.6" y2="1484.5"/>
<line x1="736.7" y1="1484.5" x2="728.7" y2="1484.5"/>
<line x1="244.6" y1="1495.2" x2="249.1" y2="1495.2"/>
<line x1="736.7" y1="1495.2" x2="732.2" y2="1495.2"/>
</g>
<clipPath id="cq"><rect x="244.6" y="1109.1" width="492.1" height="396.60000000000014"/></clipPath><g clip-path="url(#cq)">
<polyline points="245.7,1465.9 255.2,1464.6 263.3,1456.4 271.5,1442.9 279.6,1426.6 287.7,1413.1 298.5,1403.6 306.7,1394.1 314.8,1377.9 322.9,1363.0 331.0,1350.8 339.2,1341.3 350.0,1334.6 358.1,1321.0 368.9,1307.5 382.5,1291.2 393.3,1277.7 401.4,1253.3 409.6,1230.3 415.0,1224.9 425.8,1214.1 433.9,1196.4 442.1,1172.1 447.5,1154.5 455.1,1142.8 462.4,1154.5 471.9,1177.5 481.3,1199.2 490.8,1208.6 498.9,1213.2 507.1,1214.9 516.5,1227.6 526.0,1220.8 534.1,1215.4 542.3,1227.6 550.4,1233.0 561.2,1241.1 569.3,1253.3 577.5,1264.2 582.9,1283.1 587.0,1299.4 595.1,1307.5 603.2,1315.1 612.7,1310.7 622.2,1317.0 628.9,1330.5 638.4,1340.0 647.9,1329.1 656.0,1346.7 664.1,1348.1 675.0,1342.7 683.1,1354.9 692.6,1358.9 700.7,1367.1 704.8,1383.3 708.8,1399.6 715.6,1413.1 723.7,1422.6 735.9,1425.3" fill="none" stroke="#ff0000" stroke-width="3.4" stroke-linejoin="round" stroke-linecap="butt" />
<polyline points="245.7,1494.3 260.6,1489.5 276.9,1484.9 293.1,1478.1 306.7,1474.0 320.2,1463.2 333.7,1460.5 344.6,1453.7 360.8,1449.7 374.4,1445.6 387.9,1436.1 404.2,1428.0 415.0,1418.5 428.5,1411.7 436.6,1403.6 447.5,1388.7 455.6,1383.3 463.7,1385.5 474.6,1395.5 488.1,1399.6 498.9,1405.0 507.1,1405.5 516.5,1408.2 526.0,1402.8 534.1,1405.8 542.3,1407.7 553.1,1413.1 561.2,1412.6 572.1,1419.9 585.6,1429.3 596.4,1433.4 604.6,1433.4 612.7,1426.6 622.2,1426.1 631.6,1436.1 638.4,1438.0 647.9,1430.7 656.0,1435.3 664.1,1432.1 675.0,1423.9 683.1,1429.3 691.2,1436.1 700.7,1438.8 707.5,1451.0 715.6,1464.6 719.6,1467.8 726.4,1465.9 735.9,1465.9" fill="none" stroke="#0000ff" stroke-width="3.4" stroke-linejoin="round" stroke-linecap="butt" />
<polyline points="245.7,1498.4 260.6,1498.4 287.7,1494.3 309.4,1492.2 328.3,1488.4 344.6,1486.2 363.5,1485.4 382.5,1483.0 398.7,1481.3 409.6,1478.9 425.8,1477.6 439.4,1476.7 450.2,1471.9 458.3,1470.0 469.1,1471.3 480.0,1475.4 493.5,1477.3 512.5,1476.2 531.4,1475.4 545.0,1476.7 561.2,1476.7 572.1,1479.4 596.4,1480.8 603.2,1479.4 610.0,1472.7 620.8,1471.3 631.6,1478.1 639.8,1477.6 647.9,1474.0 656.0,1478.6 664.1,1475.9 675.0,1467.3 683.1,1468.6 691.2,1471.3 700.7,1461.3 707.5,1470.0 715.6,1482.2 723.7,1485.7 735.9,1485.7" fill="none" stroke="#000" stroke-width="3.4" stroke-linejoin="round" stroke-linecap="butt" />
</g>
<g class="t" font-size="31" text-anchor="middle" fill="#111">
<text transform="translate(315.8,1540.4) scale(1,1.02)">465</text>
<text transform="translate(403.1,1540.4) scale(1,1.02)">470</text>
<text transform="translate(490.4,1540.4) scale(1,1.02)">475</text>
<text transform="translate(577.7,1540.4) scale(1,1.02)">480</text>
<text transform="translate(665.0,1540.4) scale(1,1.02)">485</text>
</g>
</svg>
</body></html>
